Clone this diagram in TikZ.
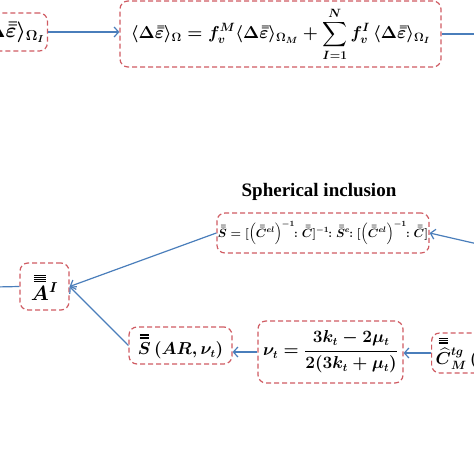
\documentclass[tikz,border=0pt]{standalone}
\usepackage{amsmath}
\usepackage{fontspec}
\newfontfamily\timesfont{Liberation Serif}
\usetikzlibrary{arrows.meta}
\definecolor{boxred}{HTML}{CF5B62}
\definecolor{arrowblue}{HTML}{4A7EBB}
\newcommand{\dbar}[1]{\bar{\bar{#1}}}
\newcommand{\qbarsym}{\vbox{\hrule width .55em height .05em\vskip.045em\hrule width .55em height .05em\vskip.045em\hrule width .55em height .05em\vskip.045em\hrule width .55em height .05em}}
\begin{document}
\begin{tikzpicture}[x=1pt,y=-1pt,
  box/.style={draw=boxred, dash pattern=on 5pt off 3pt, line width=1.2pt, rounded corners=8pt, inner sep=3pt, align=center},
  conn/.style={draw=arrowblue, line width=1.2pt, -{Straight Barb[length=4.5pt,width=10pt]}},
  plainline/.style={draw=arrowblue, line width=1.2pt},
  bigmath/.style={font=\fontsize{17.5}{20}\selectfont\boldmath},
  midmath/.style={font=\fontsize{16}{19}\selectfont\boldmath}]
\useasboundingbox (0,0) rectangle (474,474);
\clip (0,0) rectangle (474,474);
% nodes
\node[box, font=\fontsize{20}{22}\selectfont\boldmath, anchor=east, minimum height=38pt] (tl) at (48,32)
  {$\langle\Delta\dbar{\varepsilon}\rangle_{\Omega_I}$};
\node[box, bigmath, minimum width=321pt, minimum height=66pt] (big) at (280.5,34)
  {$\displaystyle\langle\Delta\dbar{\varepsilon}\rangle_{\Omega} = f_v^M\langle\Delta\dbar{\varepsilon}\rangle_{\Omega_M} + \sum_{I=1}^{N} f_v^I\,\langle\Delta\dbar{\varepsilon}\rangle_{\Omega_I}$};
\node[font=\timesfont\bfseries\fontsize{19}{22}\selectfont] (title) at (319,192) {Spherical inclusion};
\node[box, font=\fontsize{11.8}{14}\selectfont\boldmath, minimum width=210pt, minimum height=40pt, inner sep=1pt] (sin) at (323,233)
  {$\dbar{S} = [\Big(\dbar{C}^{el}\Big)^{-1}\!\!: \dbar{C}]^{-1}\!\!: \dbar{S}^{e}\!\!: [\Big(\dbar{C}^{el}\Big)^{-1}\!\!: \dbar{C}]$};
\node[box, font=\fontsize{22}{26}\selectfont\boldmath, minimum width=49pt, minimum height=47pt, inner sep=1pt] (A) at (44.5,286.5)
  {$\overset{\qbarsym}{A}{}^{I}$};
\node[box, midmath, minimum width=103pt, minimum height=37pt, inner sep=1pt] (sar) at (180.5,345.5)
  {$\overset{\qbarsym}{S}\,(AR,\nu_t)$};
\node[box, midmath, minimum width=145pt, minimum height=62pt] (nu) at (330.5,352)
  {$\nu_t = \dfrac{3k_t - 2\mu_t}{2(3k_t + \mu_t)}$};
\node[box, font=\fontsize{17}{20}\selectfont\boldmath, anchor=west, minimum height=40pt, minimum width=80pt, align=left] (C) at (431,353)
  {$\overset{\qbarsym}{\widehat{C}}{}^{tg}_{M}\,($\hspace{30pt}};
% free ends
\coordinate (rout) at (480,33);
\coordinate (rin) at (482,245);
\coordinate (lin) at (-5,287);
% connectors
\draw[conn] (tl.east) -- (tl.east -| big.west);
\draw[plainline] (big.east) -- (big.east -| rout);
\draw[conn] (rin) -- (sin.east);
\draw[conn] (sin.west) -- (A.east);
\draw[conn] (sar.west) -- (A.east);
\draw[conn] (nu.west) -- (nu.west -| sar.east);
\draw[conn] (C.west) -- (C.west -| nu.east);
\draw[plainline] (lin) -- (A.west);
\end{tikzpicture}
\end{document}
